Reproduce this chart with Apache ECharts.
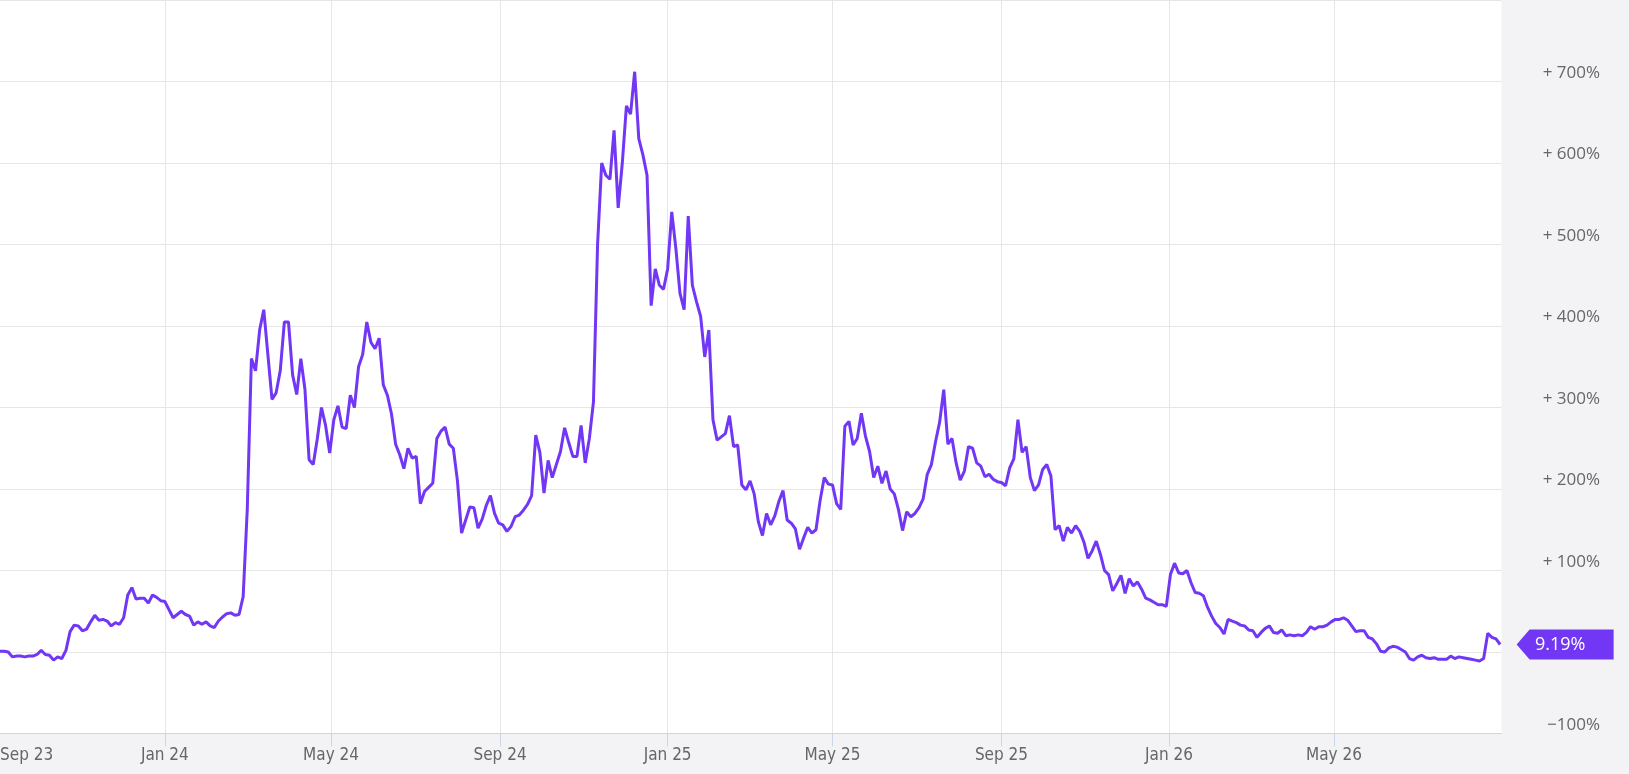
<!DOCTYPE html>
<html>
<head>
<meta charset="utf-8">
<script src="https://cdn.jsdelivr.net/npm/echarts@6/dist/echarts.min.js"></script>
<style>
html,body{margin:0;padding:0;background:#f3f3f5;}
#chart{width:1629px;height:774px;}
</style>
</head>
<body>
<div id="chart"></div>
<script>
// ---- data ----
var startDate = '2023-09-03';
var endDate = '2026-08-31';
var stepDays = 3; // one value every 3 days
var values = [
1,1,0,-6,-5,-5,-6,-5,-5,-3,2,-3,-4,-10,-6,-8,2,25,33,32,
26,28,37,45,39,40,38,32,36,34,42,70,79,65,66,66,60,70,67,63,
62,52,42,46,50,46,44,33,37,34,37,32,30,38,43,47,48,45,46,68,
175,360,345,395,420,365,310,318,345,405,405,340,316,360,322,236,230,262,300,278,
244,285,302,276,274,315,300,350,365,405,380,372,385,328,315,292,255,242,225,250,
238,240,182,197,202,207,262,271,276,255,250,210,146,162,178,177,152,163,180,192,
170,158,156,148,154,166,168,174,181,192,266,245,195,235,214,230,246,275,257,240,
240,278,232,262,307,500,600,585,580,640,545,600,670,660,712,630,610,585,425,470,
450,445,470,540,495,440,420,535,450,430,412,362,395,285,260,264,268,290,252,254,
205,199,210,194,160,143,170,156,167,185,198,162,158,151,126,140,153,146,150,186,
214,206,205,182,175,277,283,254,262,293,265,246,214,228,207,222,200,194,175,149,
172,166,170,177,188,218,230,258,282,322,255,262,232,211,222,252,250,232,228,215,
218,212,209,208,204,226,237,285,245,252,214,198,205,224,230,216,150,155,136,153,
146,155,148,135,115,124,136,120,100,95,75,84,94,72,90,81,86,77,66,64,
61,58,58,56,95,109,97,96,100,85,73,72,69,55,44,35,30,22,40,38,
36,33,32,27,26,18,24,29,32,24,23,27,20,21,20,21,20,24,31,28,
31,31,33,37,40,40,42,39,32,25,26,26,18,16,10,1,0,5,7,6,
3,0,-8,-10,-6,-4,-7,-8,-7,-9,-9,-9,-5,-8,-6,-7,-8,-9,-10,-11,
-8,23,18,16,9.19
];
var yTicks = [-100, 0, 100, 200, 300, 400, 500, 600, 700, 800];
var monthNames = ['Jan','Feb','Mar','Apr','May','Jun','Jul','Aug','Sep','Oct','Nov','Dec'];
var lastLabel = '9.19%';

// ---- build categories (every day) ----
function pad(n){return (n<10?'0':'')+n;}
var dates = [];
(function(){
  var d = new Date(startDate + 'T00:00:00Z');
  var e = new Date(endDate + 'T00:00:00Z');
  while (d <= e) {
    dates.push(d.getUTCFullYear()+'-'+pad(d.getUTCMonth()+1)+'-'+pad(d.getUTCDate()));
    d = new Date(d.getTime() + 86400000);
  }
})();
var seriesData = values.map(function(v, i){ return [i*stepDays, v]; });
var lastIdx = (values.length-1)*stepDays;

function isMajor(value){
  var p = String(value).split('-');
  return p[2] === '01' && (p[1] === '01' || p[1] === '05' || p[1] === '09');
}

var lineColor = '#7137f5';
var chart = echarts.init(document.getElementById('chart'), null, {renderer:'canvas'});
chart.setOption({
  backgroundColor: '#f3f3f5',
  animation: false,
  grid: {left: 0, right: 127.5, top: 0, bottom: 40.5, containLabel: false, outerBoundsMode: 'none',
    show: true, backgroundColor: '#ffffff', borderWidth: 0},
  xAxis: {
    type: 'category',
    data: dates,
    boundaryGap: false,
    axisLine: {show: true, onZero: false, lineStyle: {color: '#ccd6eb', width: 1}},
    axisTick: {show: true, length: 13, lineStyle: {color: '#ccd6eb'},
      interval: function(i, v){ return isMajor(v); }},
    splitLine: {show: true,
      lineStyle: {color: '#e6e6e6', width: 1},
      interval: function(i, v){ return isMajor(v); }},
    axisLabel: {
      interval: function(i, v){ return i === 0 || isMajor(v); },
      formatter: function(v){ var p = v.split('-'); return monthNames[+p[1]-1] + ' ' + p[0].slice(2); },
      color: '#666666', fontSize: 17, fontFamily: '"Liberation Sans Narrow","DejaVu Sans Condensed",sans-serif',
      margin: 14, alignMinLabel: 'left'
    }
  },
  yAxis: {
    type: 'value',
    position: 'right',
    min: yTicks[0], max: yTicks[yTicks.length-1], interval: 100,
    axisLine: {show: false}, axisTick: {show: false},
    splitLine: {show: true, lineStyle: {color: '#e6e6e6', width: 1}},
    axisLabel: {
      formatter: function(v){
        if (v === 0 || v === 800) return '';
        return v > 0 ? '+ ' + v + '%' : '\u2212' + Math.abs(v) + '%';
      },
      align: 'right', margin: 98.5, color: '#666666', fontSize: 17,
      fontFamily: '"Open Sans","Noto Sans",sans-serif',
      verticalAlign: 'bottom', lineHeight: 17
    }
  },
  series: [{
    type: 'line',
    data: seriesData,
    showSymbol: false,
    clip: false,
    lineStyle: {color: lineColor, width: 3},
    itemStyle: {color: lineColor},
    markPoint: {
      silent: true,
      data: [{
        coord: [lastIdx, values[values.length-1]],
        symbol: 'path://M0,15 L13,0 L97,0 L97,30 L13,30 Z',
        symbolSize: [97, 30],
        symbolKeepAspect: false,
        symbolOffset: [65, 0],
        itemStyle: {color: lineColor},
        label: {show: true, formatter: lastLabel, color: '#ffffff', fontSize: 18,
          fontFamily: '"Open Sans","Noto Sans",sans-serif', offset: [-5, 0]}
      }]
    }
  }]
});
</script>
</body>
</html>
